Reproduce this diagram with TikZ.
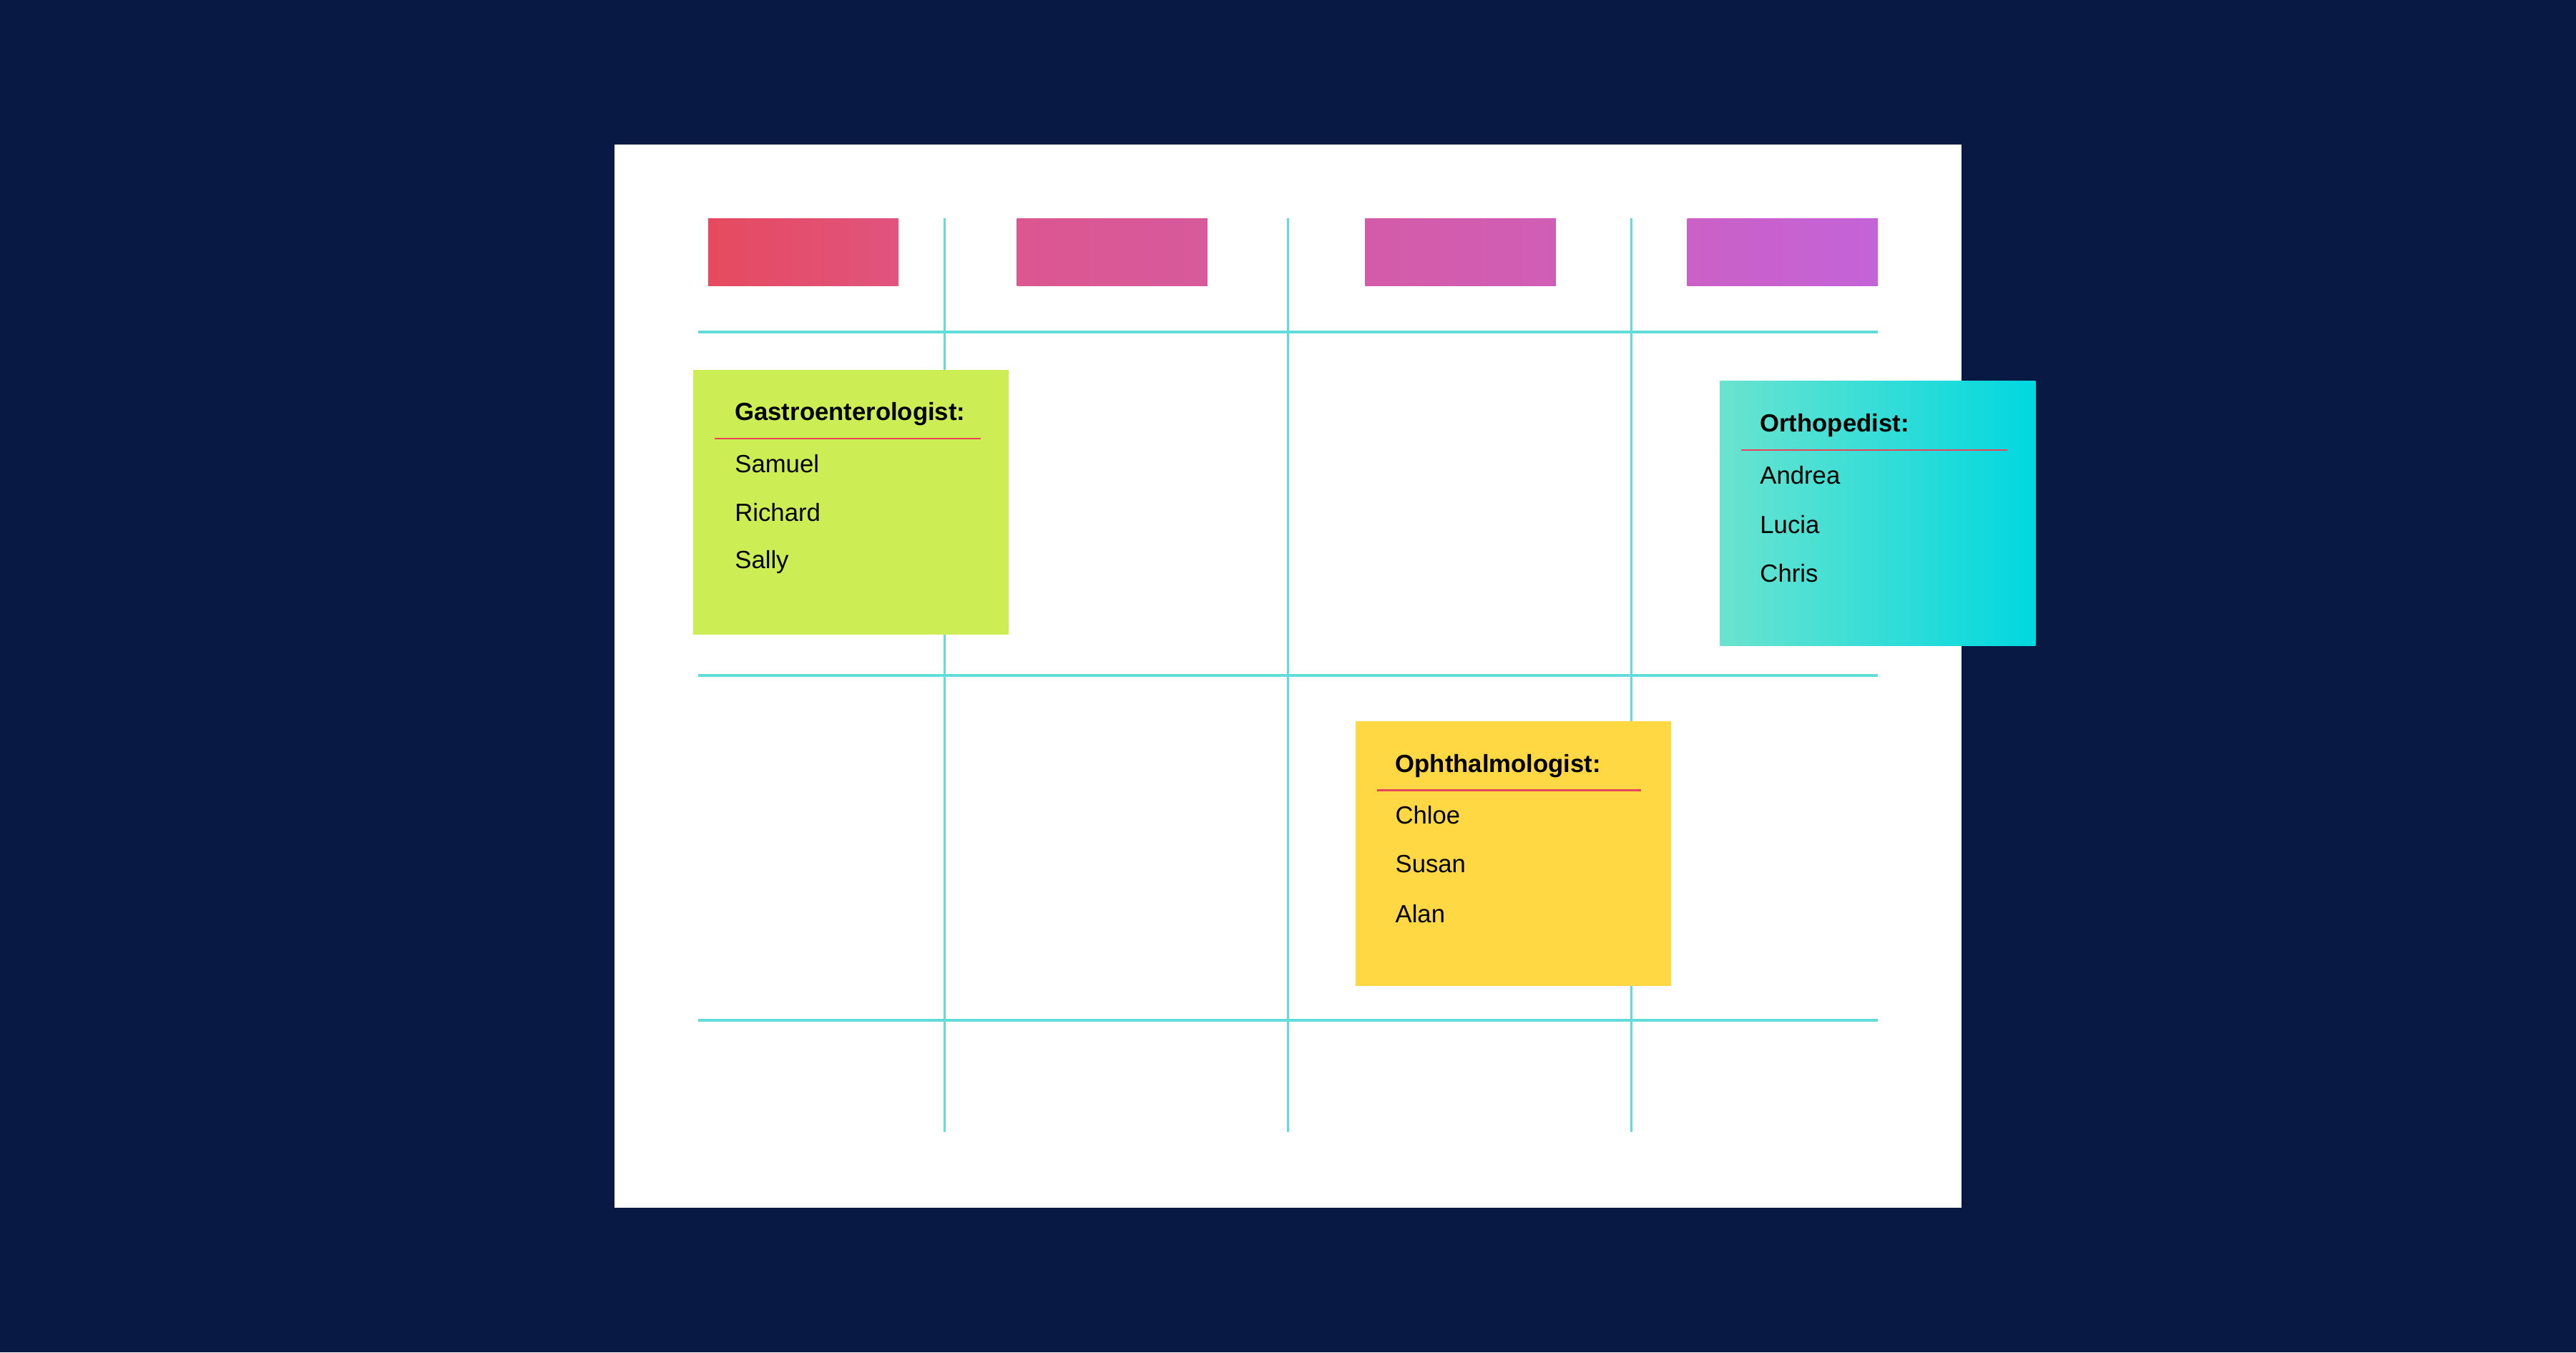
\documentclass[tikz,border=0pt]{standalone}
\usepackage{fontspec}
\setmainfont{Liberation Sans}
\usetikzlibrary{positioning}

\definecolor{navy}{HTML}{081943}
\definecolor{gridline}{HTML}{62DCD8}
\definecolor{notegreen}{HTML}{CDED55}
\definecolor{noteyellow}{HTML}{FFD843}
\definecolor{tealA}{HTML}{6BE3CE}
\definecolor{tealB}{HTML}{00D8E0}
\definecolor{lineRed}{HTML}{E8455A}
\definecolor{hA}{HTML}{E64A5E}
\definecolor{hB}{HTML}{E0547E}
\definecolor{hC}{HTML}{DC5690}
\definecolor{hD}{HTML}{D75A9C}
\definecolor{hE}{HTML}{D45BA8}
\definecolor{hF}{HTML}{D05EB6}
\definecolor{hG}{HTML}{CB60C6}
\definecolor{hH}{HTML}{C463D8}

\tikzset{
    notetitle/.style={anchor=west, font=\bfseries\fontsize{8.6}{10}\selectfont, inner sep=0pt},
    notename/.style={anchor=west, font=\fontsize{8.6}{10}\selectfont, inner sep=0pt},
    underline/.style={lineRed, line width=0.6pt}
}

\begin{document}
\begin{tikzpicture}[x=0.02cm, y=-0.02cm]
    % background and board
    \fill[navy] (0,0) rectangle (1568,823);
    \useasboundingbox (0,0) rectangle (1568,823);
    \fill[white] (374,88) rectangle (1194,735);

    % header tabs
    \shade[left color=hA, right color=hB] (431,133) rectangle (547,174);
    \shade[left color=hC, right color=hD] (619,133) rectangle (735,174);
    \shade[left color=hE, right color=hF] (831,133) rectangle (947,174);
    \shade[left color=hG, right color=hH] (1027,133) rectangle (1143,174);

    % grid
    \foreach \x in {575, 784, 993}
        \draw[gridline, line width=0.9pt] (\x,133) -- (\x,689);
    \foreach \y in {202, 411, 621}
        \draw[gridline, line width=0.9pt] (425,\y) -- (1143,\y);

    % notes
    \fill[notegreen] (422,225) rectangle (614,386);
    \shade[left color=tealA, right color=tealB] (1047,232) rectangle (1239,393);
    \fill[noteyellow] (825,439) rectangle (1017,600);

    % note titles
    \node[notetitle] (gastro) at (447,252) {Gastroenterologist:};
    \node[notetitle] (ortho) at (1071,259) {Orthopedist:};
    \node[notetitle] (ophth) at (849,466) {Ophthalmologist:};

    % underlines
    \draw[underline] (435,267) -- (597,267);
    \draw[underline] (1060,274) -- (1222,274);
    \draw[underline] (838,481) -- (999,481);

    % names
    \foreach \n [count=\i] in {Samuel, Richard, Sally}
        \node[notename] (g\i) at (447,252+30*\i) {\n};
    \foreach \n [count=\i] in {Andrea, Lucia, Chris}
        \node[notename] (o\i) at (1071,259+30*\i) {\n};
    \foreach \n [count=\i] in {Chloe, Susan, Alan}
        \node[notename] (p\i) at (849,466+30*\i) {\n};
\end{tikzpicture}
\end{document}
